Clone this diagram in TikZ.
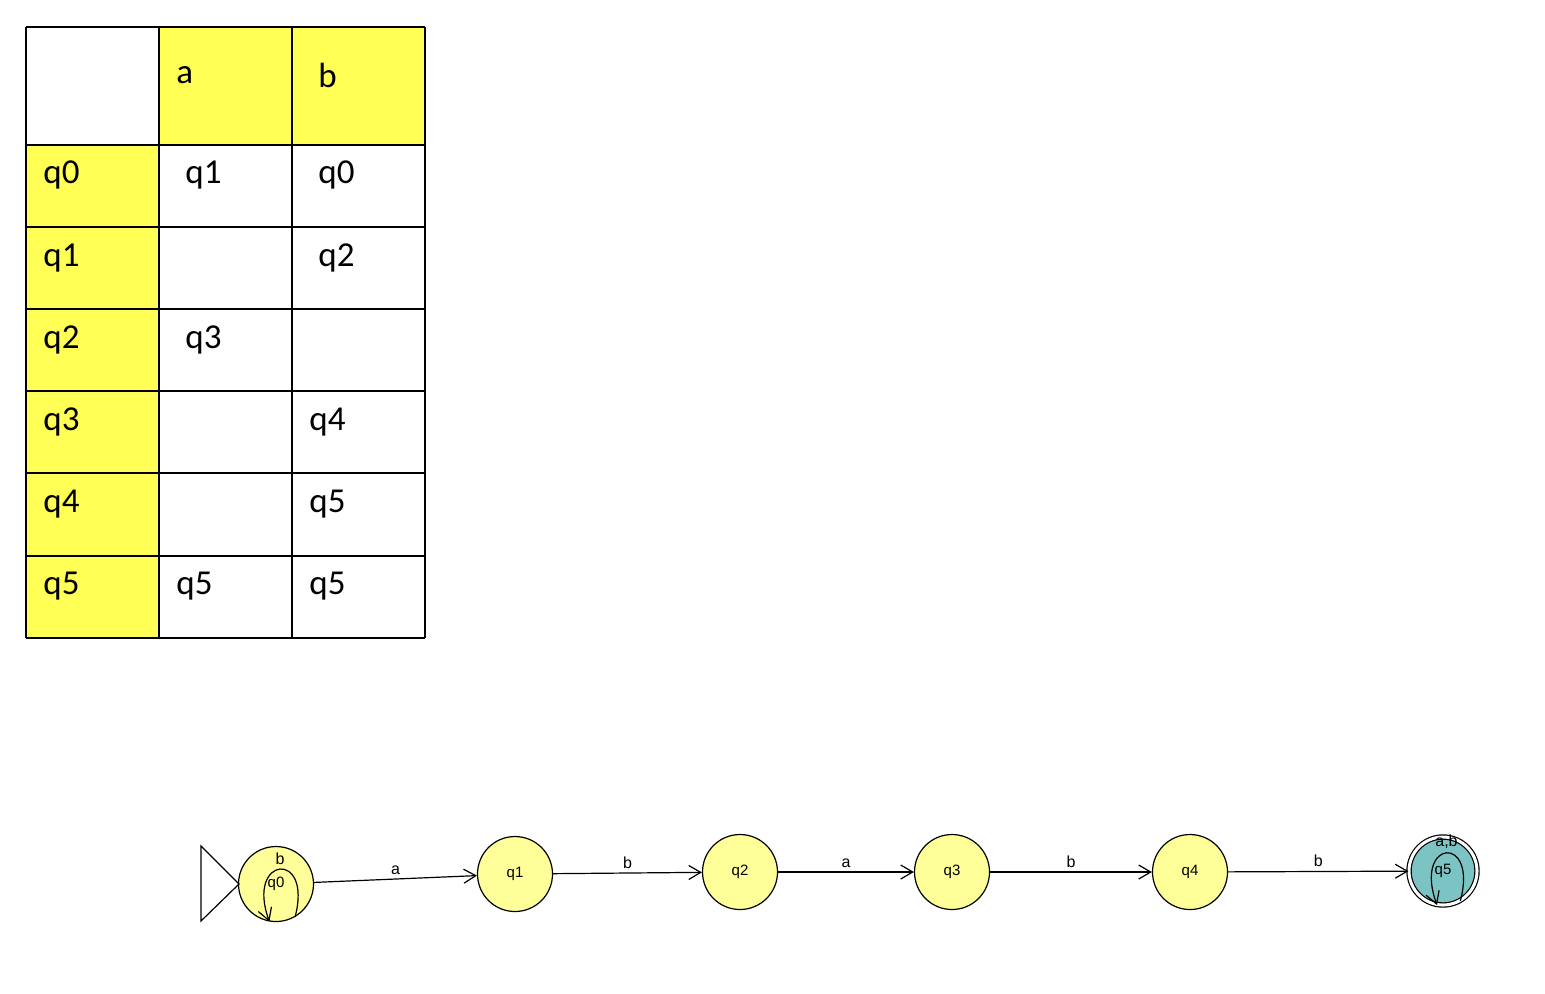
\documentclass[tikz,border=0pt]{standalone}
\usepackage{fontspec}
\setmainfont{Carlito}
\newfontfamily\statefont{Liberation Sans}
\usetikzlibrary{arrows.meta}
\definecolor{tyellow}{HTML}{FFFF55}
\definecolor{syellow}{HTML}{FFFF99}
\definecolor{steal}{HTML}{7CC4C4}
\tikzset{
  ctext/.style={anchor=west,font=\fontsize{17.5}{20}\selectfont,inner sep=0},
  state/.style={circle,draw,line width=0.6pt,fill=syellow,minimum size=37.5pt,inner sep=0,font=\statefont\fontsize{7.5}{8}\selectfont},
  trans/.style={-{Straight Barb[length=6pt,width=7pt]},line width=0.6pt},
  elab/.style={font=\statefont\fontsize{8}{9}\selectfont,inner sep=2pt}
}
\begin{document}
\begin{tikzpicture}[x=0.5pt,y=-0.5pt]
\useasboundingbox (0,0) rectangle (1545,993);
% table fills
\fill[tyellow] (159,27) rectangle (425,145);
\fill[tyellow] (26,145) rectangle (159,638);
\foreach \x in {26,159,292,425} \draw[line width=1.2pt] (\x,27) -- (\x,638);
\foreach \y in {27,145,227,309,391,473,556,638} \draw[line width=1.2pt] (26,\y) -- (425,\y);
\node[ctext] (ha) at (176,75) {a};
\node[ctext] (hb) at (318,75) {b};
\foreach \i/\y in {0/175,1/258,2/340,3/422,4/504,5/586} \node[ctext] (r\i) at (43,\y) {q\i};
\node[ctext] (c01) at (185,175) {q1};
\node[ctext] (c02) at (318,175) {q0};
\node[ctext] (c12) at (318,258) {q2};
\node[ctext] (c21) at (185,340) {q3};
\node[ctext] (c32) at (309,422) {q4};
\node[ctext] (c42) at (309,504) {q5};
\node[ctext] (c51) at (176,586) {q5};
\node[ctext] (c52) at (309,586) {q5};
% automaton
\node[state] (q0) at (276,884) {q0};
\node[state] (q1) at (515,874) {q1};
\node[state] (q2) at (740,872) {q2};
\node[state] (q3) at (952,872) {q3};
\node[state] (q4) at (1190,872) {q4};
\node[state,fill=steal,double,double distance=1.5pt,minimum size=34pt] (q5) at (1443,871) {q5};
\draw[line width=0.6pt,fill=white] (201,846) -- (239,884) -- (201,921) -- cycle;
\draw[trans] (q0) -- node[elab,above] {a} (q1);
\draw[trans] (q1) -- node[elab,above] {b} (q2);
\draw[trans] (q2) -- node[elab,above] {a} (q3);
\draw[trans] (q3) -- node[elab,above] {b} (q4);
\draw[trans] (q4) -- node[elab,above] {b} (q5);
\draw[trans] (q0.-60) .. controls +(-75:70) and +(-110:70) .. node[elab,above] {b} (q0.-100);
\draw[trans] (q5.-60) .. controls +(-75:70) and +(-110:70) .. node[elab,above] {a,b} (q5.-100);
\end{tikzpicture}
\end{document}
